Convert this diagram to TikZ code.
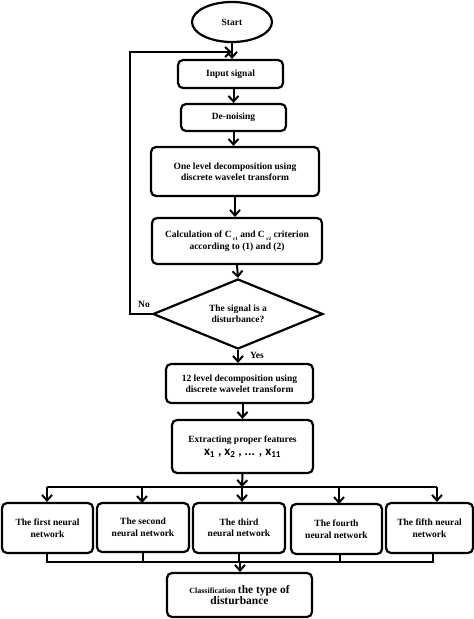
\documentclass[tikz,border=0pt]{standalone}
\usepackage{fontspec}
\setmainfont{Liberation Serif}
\newfontfamily\xfont{Carlito}
\usetikzlibrary{shapes.geometric,arrows.meta}
\begin{document}
\begin{tikzpicture}[x=1pt,y=-1pt,
  box/.style={draw,line width=2.2pt,rounded corners=5pt,align=center,inner sep=1pt,
    font=\bfseries\fontsize{9.5}{11.5}\selectfont},
  conn/.style={line width=2pt},
  arr/.style={conn,-{Straight Barb[length=5.5pt,width=10pt,line width=2pt]}},
  lbl/.style={font=\bfseries\fontsize{9.5}{11}\selectfont,inner sep=0pt}]
\useasboundingbox (0,0) rectangle (474,619);
\node[draw,ellipse,line width=2.2pt,minimum width=80pt,minimum height=40pt,inner sep=0pt,
  font=\bfseries\fontsize{9.5}{11}\selectfont] (start) at (232,22) {Start};
\node[box,minimum width=105pt,minimum height=28pt] (inp) at (230.5,74) {Input signal};
\node[box,minimum width=105pt,minimum height=27pt] (den) at (233.5,117.5) {De-noising};
\node[box,minimum width=168pt,minimum height=49pt] (one) at (235,171.5)
  {One level decomposition using\\discrete wavelet transform};
\node[box,minimum width=170pt,minimum height=46pt] (calc) at (237,241)
  {Calculation of C\,\raisebox{-2.5pt}{\fontsize{5}{6}\selectfont r1} and C\,\raisebox{-2.5pt}{\fontsize{5}{6}\selectfont r2} criterion\\according to (1) and (2)};
\node[draw,diamond,line width=2.2pt,minimum width=170pt,minimum height=70pt,inner sep=0pt,
  aspect=2.43,align=center,font=\bfseries\fontsize{9.5}{11.5}\selectfont] (dec) at (238,314)
  {The signal is a\\disturbance?};
\node[box,minimum width=147pt,minimum height=39pt] (twelve) at (239.5,383.5)
  {12 level decomposition using\\discrete wavelet transform};
\node[box,minimum width=141pt,minimum height=53pt] (ext) at (242.5,446.5)
  {Extracting proper features\\[2pt]{\xfont\bfseries\fontsize{13}{14}\selectfont x\textsubscript{1} , x\textsubscript{2} , ... , x\textsubscript{11}}};
\node[box,minimum width=91pt,minimum height=50pt] (n1) at (47.5,528) {The first neural\\network};
\node[box,minimum width=92pt,minimum height=49pt] (n2) at (143,527.5) {The second\\neural network};
\node[box,minimum width=92pt,minimum height=50pt] (n3) at (239,528) {The third\\neural network};
\node[box,minimum width=91pt,minimum height=50pt] (n4) at (336.5,529) {The fourth\\neural network};
\node[box,minimum width=87pt,minimum height=50pt] (n5) at (429.5,528) {The fifth neural\\network};
\node[box,minimum width=145pt,minimum height=44pt] (cls) at (239.5,595)
  {{\fontsize{8}{10}\selectfont Classification} {\fontsize{11.5}{13}\selectfont the type of}\\{\fontsize{11.5}{13}\selectfont disturbance}};
% coordinates
\coordinate (loopin) at (232,52);
\coordinate (lcorner) at (130,52);
\coordinate (lbottom) at (130,314);
\coordinate (dl) at (47,487);
\coordinate (dr) at (437,487);
\coordinate (dm) at (242,487);
\coordinate (cl) at (47,562);
\coordinate (cr) at (433,562);
\coordinate (cm) at (240,562);
% main flow
\draw[arr] (start.south) -- (start.south |- inp.north);
\draw[arr] (dec.west) -- (lbottom) -- (lcorner) -- (loopin);
\draw[arr] (inp.south -| den.north) -- (den.north);
\draw[arr] (den.south) -- (den.south |- one.north);
\draw[arr] (one.south) -- (one.south |- calc.north);
\draw[arr] (calc.south) -- (dec.north);
\draw[arr] (dec.south) -- (dec.south |- twelve.north);
\draw[arr] (twelve.south -| ext.north) -- (ext.north);
\draw[arr] (ext.south) -- (dm);
\draw[conn] (dl) -- (dr);
\draw[arr] (dl) -- (dl |- n1.north);
\draw[arr] (142,487) -- (142,503);
\draw[arr] (dm) -- (dm |- n3.north);
\draw[arr] (339,487) -- (339,504);
\draw[arr] (dr) -- (dr |- n5.north);
\draw[conn] (n1.south -| cl) -- (cl) -- (cr) -- (cr |- n5.south);
\draw[conn] (n2.south) -- (n2.south |- cm);
\draw[conn] (n3.south) -- (n3.south |- cm);
\draw[conn] (340,554) -- (340,562);
\draw[arr] (cm) -- (cm |- cls.north);
\node[lbl] (no) at (144,304) {No};
\node[lbl] (yes) at (257,355) {Yes};
\end{tikzpicture}
\end{document}
